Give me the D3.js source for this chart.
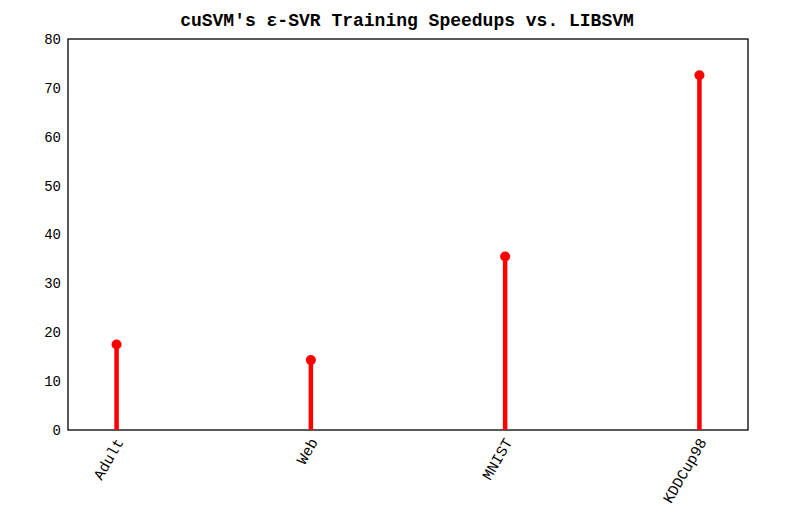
<!DOCTYPE html>
<html><head><meta charset="utf-8">
<script src="https://cdn.jsdelivr.net/npm/d3@7"></script>
<style>body{margin:0;background:#fff}</style>
</head><body>
<svg id="c" width="801" height="514"></svg>
<script>
const categories = ["Adult", "Web", "MNIST", "KDDCup98"];
const speedups = [17.5, 14.3, 35.5, 72.6];
const yTicks = [0, 10, 20, 30, 40, 50, 60, 70, 80];
const title = "cuSVM's \u03b5-SVR Training Speedups vs. LIBSVM";

const svg = d3.select("#c");
const m = {left: 68, right: 53, top: 39, bottom: 84};
const W = 801, H = 514;
const x = d3.scalePoint().domain(categories).range([m.left, W - m.right]).padding(0.25);
const y = d3.scaleLinear().domain([0, 80]).range([H - m.bottom, m.top]);
const font = "'Liberation Mono', 'Courier New', monospace";

svg.append("rect").attr("x", m.left).attr("y", m.top)
  .attr("width", W - m.left - m.right).attr("height", H - m.top - m.bottom)
  .attr("fill", "none").attr("stroke", "#000").attr("stroke-width", 1.3);

svg.append("text").attr("x", 407).attr("y", 26)
  .attr("text-anchor", "middle").attr("font-family", font).attr("font-weight", "bold")
  .attr("font-size", 18).text(title);

const ya = d3.axisLeft(y).tickValues(yTicks).tickSize(0).tickPadding(7);
const gy = svg.append("g").attr("transform", `translate(${m.left},0)`).call(ya);
gy.select(".domain").remove();
gy.selectAll("text").attr("font-family", font).attr("font-size", 14).attr("fill", "#000");

const xa = d3.axisBottom(x).tickSize(0).tickPadding(0);
const gx = svg.append("g").attr("transform", `translate(0,${H - m.bottom})`).call(xa);
gx.select(".domain").remove();
gx.selectAll("text").attr("font-family", font).attr("font-size", 15).attr("fill", "#000")
  .attr("text-anchor", "end").attr("dy", null)
  .attr("transform", "translate(7,12) rotate(-60)");

svg.selectAll(".stem").data(categories).join("line").attr("class", "stem")
  .attr("x1", d => x(d)).attr("x2", d => x(d))
  .attr("y1", y(0)).attr("y2", (d, i) => y(speedups[i]))
  .attr("stroke", "#ff0000").attr("stroke-width", 4.5);

svg.selectAll(".dot").data(categories).join("circle").attr("class", "dot")
  .attr("cx", d => x(d)).attr("cy", (d, i) => y(speedups[i])).attr("r", 5)
  .attr("fill", "#ff0000");
</script>
</body></html>
